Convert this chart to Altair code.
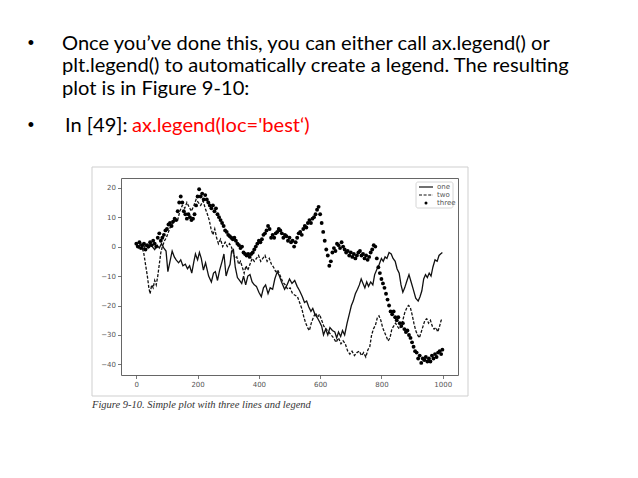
import altair as alt
import pandas as pd

# ---- data ----
one_x = [0, 8, 15, 22, 30, 38, 45, 52, 60, 68, 75, 82, 90, 97, 103, 110, 117, 124, 130, 138,
         145, 152, 160, 167, 174, 181, 188, 193, 200, 206, 212, 219, 226, 236, 245, 252, 258, 265, 272, 280,
         286, 293, 300, 306, 311, 317, 323, 330, 337, 344, 350, 357, 364, 371, 378, 385, 392, 400, 408, 415,
         422, 430, 437, 445, 452, 460, 467, 474, 484, 492, 500, 508, 517, 525, 533, 542, 549, 556, 563, 570,
         576, 583, 590, 598, 605, 611, 618, 625, 632, 640, 648, 654, 660, 667, 673, 680, 688, 695, 702, 708,
         715, 722, 728, 734, 740, 746, 752, 758, 765, 772, 778, 786, 793, 800, 806, 812, 818, 825, 832, 838,
         845, 851, 858, 864, 870, 876, 882, 890, 897, 904, 912, 920, 926, 932, 938, 944, 950, 956, 962, 968,
         975, 982, 988, 993, 999]
one_y = [0.5, -0.5, 1, -1, 0.5, -0.5, 1.5, 0, -1, 0.5, -0.5, 1, -0.5, -1.5, -8.5, -5, -1.5, -3.5, -4.5, -5.5,
         -4.5, -6.5, -6, -7.5, -6.5, -9, -5, -2.5, -4.5, -2, -4, -8, -5.5, -10, -12, -9, -8.5, -11.5, -8, -5,
         -2.5, -10, -7.5, -6, -1.5, -1, -7, -10.5, -11.5, -12.5, -10, -13, -10, -9.5, -12, -13, -13.5, -15.5, -17, -14,
         -13, -16, -14, -14.5, -11, -8.5, -10, -12, -14.5, -13, -11, -12.5, -11.5, -13.5, -15, -17, -19, -18.5, -20.5, -22,
         -21, -23, -24, -25.5, -27, -30, -28, -30, -27.5, -28.5, -29, -31, -29, -30.5, -28.5, -30, -26, -23, -20, -18.5,
         -16, -14.5, -13, -11, -12.5, -14, -12, -13.5, -12, -13, -9.5, -7.5, -6, -4, -5, -3.5, -4, -2, -2.5, -4,
         -5, -7.5, -9, -13, -15.5, -14, -12, -9.5, -12, -14.5, -17.5, -18.5, -17, -15, -11, -9.5, -10.5, -9, -10, -7,
         -4.5, -5, -3, -2.5, -2]

two_x = [0, 6, 12, 18, 24, 30, 36, 41, 45, 50, 55, 60, 65, 70, 75, 80, 85, 92, 98, 105,
         112, 120, 128, 135, 142, 150, 158, 165, 172, 180, 188, 195, 202, 210, 218, 225, 232, 238, 244, 250,
         256, 262, 268, 275, 282, 290, 297, 304, 310, 316, 322, 328, 334, 340, 346, 352, 358, 364, 371, 378,
         385, 392, 399, 406, 413, 420, 427, 434, 441, 448, 455, 462, 470, 478, 486, 494, 502, 510, 518, 526,
         533, 540, 547, 553, 559, 565, 571, 578, 585, 592, 598, 605, 612, 620, 628, 636, 644, 652, 660, 668,
         675, 682, 690, 697, 704, 712, 720, 728, 735, 742, 749, 756, 762, 768, 774, 781, 787, 792, 798, 804,
         810, 816, 822, 828, 834, 840, 846, 852, 858, 864, 870, 876, 882, 888, 894, 900, 906, 912, 918, 924,
         930, 936, 942, 948, 954, 960, 966, 972, 978, 984, 990, 995, 999]
two_y = [0.5, -0.5, 1, 0, -2, -6, -10, -14, -16, -13, -14, -11.5, -13, -10, -6, -2, 0, 2, 3, 5,
         7, 8, 9.5, 9, 12, 14, 13, 15, 13.5, 12, 14, 16, 15, 14, 15.5, 13, 11, 9, 6, 4,
         6, 3, 1, 2.5, 0, 1.5, 0, 1, 0, -2, -4, -3.5, -6, -5, -7, -9, -6.5, -8, -6, -4,
         -5, -4, -3, -5, -4, -3, -5, -4, -6, -7, -8.5, -8, -10, -12, -13, -14.5, -14, -16, -16.5, -17,
         -19, -21, -24, -26, -27.5, -28.5, -26, -24, -22.5, -24, -23, -25, -27, -28, -29, -30, -31, -32.5, -31, -33,
         -32, -33, -35.5, -36.5, -35.5, -37, -36, -35.5, -37, -36, -37.5, -35, -34, -30, -28, -26.5, -24, -23.5, -25, -27.5,
         -29, -30.5, -32, -31, -28, -27, -26, -27, -28, -27, -25, -22.5, -21, -20, -20.5, -23, -26, -28.5, -30, -31,
         -29, -27, -25, -24.5, -26, -25, -27, -28, -27.5, -29, -27, -25, -24.5]

three_x = list(range(0, 1000, 5)) + [999]
three_y = [1, 0, 1.5, -0.5, 0.5, 1, -1, 0.5, 0, 1.5, 0.5, 2, 1, 0, 3, 4.5, 2, 3, 4, 5.5,
           6, 7.5, 8, 7, 8.5, 9.5, 9, 12, 15, 17, 15, 12, 11, 9.5, 11, 10, 9, 9.5, 11, 14,
           17, 19.5, 17, 18, 16, 17.5, 16, 15, 14, 13, 14, 12, 13, 11, 10, 9, 8, 7, 5.5, 5,
           4, 3.5, 3, 2.5, 3, 2, 1, 0.5, -0.5, 0, -2, -2.5, -3, -2.5, -3.5, -2.5, -2, -1, 0, 1,
           2, 1.5, 2.5, 4, 4.5, 5.5, 7, 6, 3, 4, 3, 4.5, 5, 6, 5.5, 4.5, 3, 4, 3.5, 2,
           3, 1.5, 2, 0, 1.5, 3, 4.5, 5, 4, 6, 7, 6.5, 8, 9, 8, 9.5, 10, 11, 12.5, 13.5,
           11, 8, 5, 2, -1, -3, -6.5, -5, -2, -0.5, -1.5, 1, 0.5, -0.5, 1.5, 0, -1, -2, -1.5, -3,
           -2, -3.5, -2.5, -4, -3, -2, -1.5, -3, -2.5, -4, -3, -4.5, -3.5, -2, -1, 0.5, 0, -4, -7, -9,
           -11, -12.5, -14, -16, -18, -20, -22, -23, -22, -24, -25, -24, -26, -27, -26, -28, -29, -28.5, -30, -31,
           -32.5, -34, -35.5, -36, -38, -37, -39.5, -38, -38.5, -37.5, -39, -38, -39, -37, -38, -36.5, -37.5, -36, -35.5, -36.5,
           -35]

x_ticks = [0, 200, 400, 600, 800, 1000]
y_ticks = [-40, -30, -20, -10, 0, 10, 20]
legend_labels = ["one", "two", "three"]

bullet_lines = [
    "Once you\u2019ve done this, you can either call ax.legend() or",
    "plt.legend() to automatically create a legend. The resulting",
    "plot is in Figure 9-10:",
]
code_prefix = "In [49]:"
code_text = "ax.legend(loc='best\u2018)"
caption = "Figure 9-10. Simple plot with three lines and legend"

df_one = pd.DataFrame({"step": one_x, "value": one_y})
df_two = pd.DataFrame({"step": two_x, "value": two_y})
df_three = pd.DataFrame({"step": three_x, "value": three_y})
unit = pd.DataFrame({"k": [0]})

xs = alt.Scale(domain=[-50, 1050], nice=False, zero=False)
ys = alt.Scale(domain=[-43.6, 23.3], nice=False, zero=False)

minus_expr = "datum.value < 0 ? '\u2212' + abs(datum.value) : '' + datum.value"
axis_common = dict(title=None, grid=False, domain=False, ticks=True, tickSize=3.5, tickColor="#555",
                   tickWidth=0.8, labelColor="#555", labelFontSize=7, labelFont="DejaVu Sans",
                   labelPadding=2, format="d", labelExpr=minus_expr)

X = alt.X("step:Q", scale=xs, axis=alt.Axis(values=x_ticks, **axis_common))
Y = alt.Y("value:Q", scale=ys, axis=alt.Axis(values=y_ticks, **axis_common))

frame = alt.Chart(unit).mark_rect(fillOpacity=0, stroke="#cfcfcf", strokeWidth=1).encode(
    x=alt.value(-29), x2=alt.value(347), y=alt.value(-11), y2=alt.value(218))

line_one = alt.Chart(df_one).mark_line(color="#111", strokeWidth=1.3).encode(x=X, y=Y)
line_two = alt.Chart(df_two).mark_line(color="#111", strokeWidth=1.3, strokeDash=[3, 1.6]).encode(x=X, y=Y)
pts_three = alt.Chart(df_three).mark_circle(color="#000", size=15, opacity=1).encode(x=X, y=Y)

leg_box = alt.Chart(unit).mark_rect(fill="white", stroke="#cccccc", strokeWidth=0.8, cornerRadius=2).encode(
    x=alt.value(295), x2=alt.value(332), y=alt.value(4), y2=alt.value(30))
leg_one = alt.Chart(unit).mark_rule(color="#111", strokeWidth=1.2).encode(
    x=alt.value(298), x2=alt.value(312), y=alt.value(9))
leg_two = alt.Chart(unit).mark_rule(color="#111", strokeWidth=1.2, strokeDash=[3, 1.6]).encode(
    x=alt.value(298), x2=alt.value(312), y=alt.value(17))
leg_three = alt.Chart(unit).mark_circle(color="#000", size=9, opacity=1).encode(
    x=alt.value(305), y=alt.value(25))
leg_text = [
    alt.Chart(unit).mark_text(align="left", baseline="middle", fontSize=7, color="#555",
                              font="DejaVu Sans").encode(x=alt.value(316), y=alt.value(yy), text=alt.value(t))
    for t, yy in zip(legend_labels, [9, 17, 25])
]

slide_font = "Lato"
fs = 20.1
txt = []
for t, yy in zip(bullet_lines, [-134, -112, -89]):
    txt.append(alt.Chart(unit).mark_text(align="left", baseline="middle", font=slide_font, fontSize=fs,
                                         color="#000").encode(x=alt.value(-59), y=alt.value(yy), text=alt.value(t)))
for yy in [-134, -52]:
    txt.append(alt.Chart(unit).mark_text(align="center", baseline="middle", font="Liberation Sans", fontSize=18,
                                         color="#000").encode(x=alt.value(-90), y=alt.value(yy), text=alt.value("\u2022")))
txt.append(alt.Chart(unit).mark_text(align="left", baseline="middle", font=slide_font, fontSize=fs,
                                     color="#000").encode(x=alt.value(-56), y=alt.value(-52), text=alt.value(code_prefix)))
txt.append(alt.Chart(unit).mark_text(align="left", baseline="middle", font=slide_font, fontSize=fs,
                                     color="#ff0000").encode(x=alt.value(11), y=alt.value(-52), text=alt.value(code_text)))
txt.append(alt.Chart(unit).mark_text(align="left", baseline="middle", font="Liberation Serif", fontStyle="italic",
                                     fontSize=10.5, color="#333").encode(x=alt.value(-29), y=alt.value(227),
                                                                        text=alt.value(caption)))

chart = alt.layer(frame, line_one, line_two, pts_three, leg_box, leg_one, leg_two, leg_three,
                  *leg_text, *txt).properties(
    width=337, height=197,
    padding={"left": 113, "top": 170, "right": 172, "bottom": 95},
    autosize=alt.AutoSizeParams(type="none"),
    background="white",
).configure_view(stroke="#666", strokeWidth=1)

chart.save("out.html", embed_options={"renderer": "svg", "actions": False})
